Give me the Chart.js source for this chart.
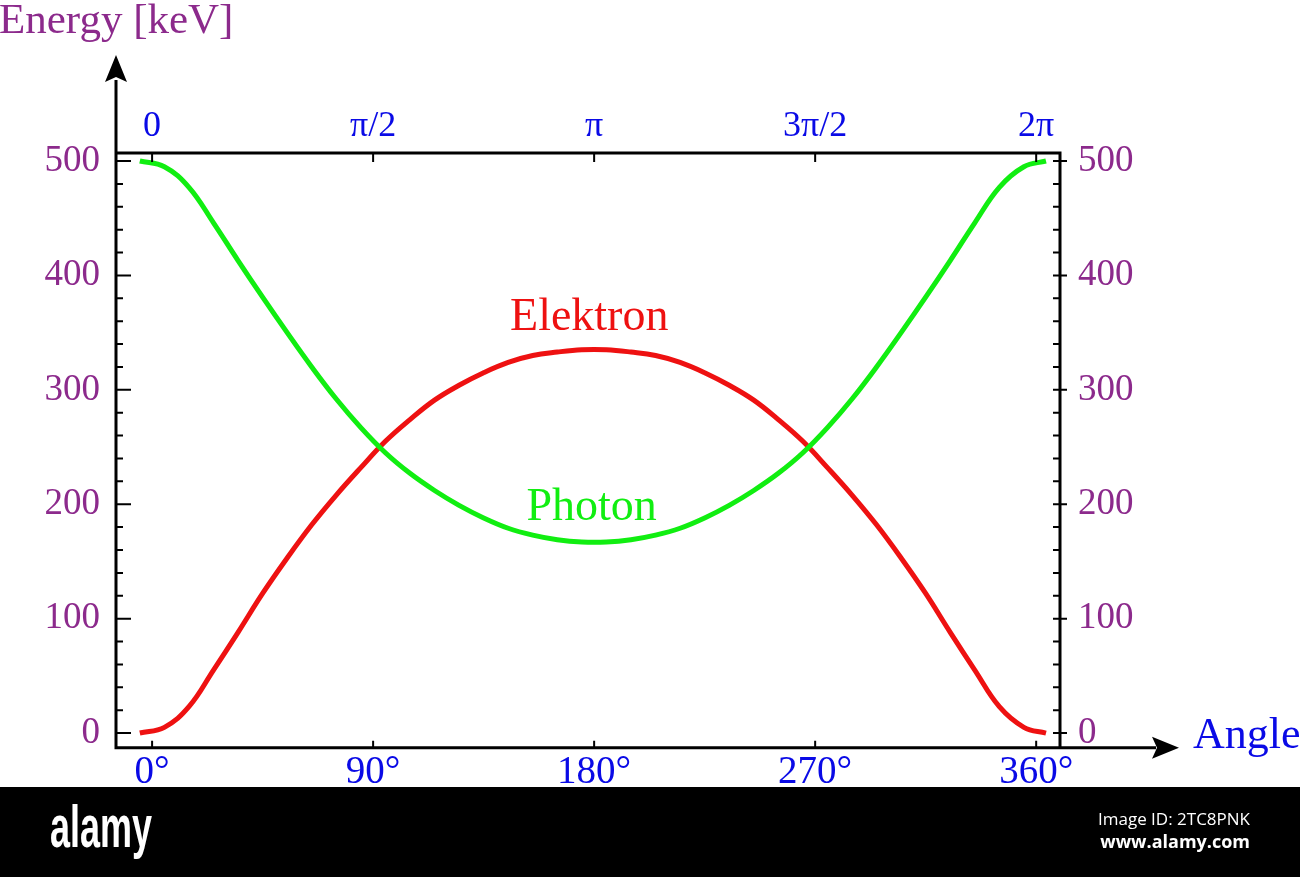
<!DOCTYPE html>
<html>
<head>
<meta charset="utf-8">
<script src="https://cdn.jsdelivr.net/npm/chart.js@4.4.1/dist/chart.umd.min.js"></script>
<style>
  html, body { margin: 0; padding: 0; background: #fff; }
  #wrap { width: 1300px; height: 877px; }
</style>
</head>
<body>
<div id="wrap"><canvas id="compton" width="1300" height="877"></canvas></div>
<script>
// scattering angle in degrees (the curves start a bit left of 0°)
const angles = [-5, 5, 15, 25, 35, 45, 55, 65, 75, 85, 95, 105, 115, 125, 135, 145, 155, 165, 175,
  185, 195, 205, 215, 225, 235, 245, 255, 265, 275, 285, 295, 305, 315, 325, 335, 345, 355, 364];
// energy of the scattered photon [keV]
const photon = [500, 495, 477, 446, 413, 381, 350, 320, 292, 267, 245, 227, 212, 199, 188, 179, 173, 169, 167,
  167, 169, 173, 179, 188, 199, 212, 227, 245, 267, 292, 320, 350, 381, 413, 446, 477, 495, 500];
// energy of the recoil electron [keV]
const electron = [0, 5, 23, 55, 88, 122, 153, 182, 208, 232, 255, 274, 291, 304, 315, 324, 330, 333, 335,
  335, 333, 330, 324, 315, 304, 291, 274, 255, 232, 208, 182, 153, 122, 88, 55, 23, 5, 0];

const xTicks = [0, 90, 180, 270, 360];
const xLabelsDeg = ["0°", "90°", "180°", "270°", "360°"];
const xLabelsRad = ["0", "π/2", "π", "3π/2", "2π"];
const yTicks = [0, 100, 200, 300, 400, 500];
const yMinorStep = 20;

const RED = "#ee1111";
const GREEN = "#11ee11";
const PURPLE = "#8c2a8c";
const BLUE = "#0a0ae6";
const SERIF = "'Liberation Serif', 'Times New Roman', serif";

// where the curve names sit, in data units
const curveNames = [
  { text: "Elektron", x: 178, y: 352, color: RED },
  { text: "Photon", x: 179, y: 186, color: GREEN }
];

function xTickList(scale) {
  scale.ticks = xTicks.map(v => ({ value: v }));
}
function yTickList(scale) {
  let list = [];
  for (let v = yTicks[0]; v <= yTicks[yTicks.length - 1]; v += yMinorStep) {
    list.push({ value: v });
  }
  scale.ticks = list;
}
function yLabel(value) {
  return yTicks.includes(value) ? String(value) : "";
}

// Frame, arrows, inward ticks, curve names and the stock-photo band
const framePlugin = {
  id: "frame",
  afterDatasetsDraw(chart) {
    const ctx = chart.ctx;
    const x = chart.scales.x, y = chart.scales.y;
    ctx.save();
    ctx.textAlign = "center";
    ctx.textBaseline = "alphabetic";
    ctx.font = "46px " + SERIF;
    curveNames.forEach(n => {
      ctx.fillStyle = n.color;
      ctx.fillText(n.text, x.getPixelForValue(n.x), y.getPixelForValue(n.y));
    });
    ctx.restore();
  },
  afterDraw(chart) {
    const ctx = chart.ctx;
    const a = chart.chartArea;
    const x = chart.scales.x, y = chart.scales.y;
    ctx.save();
    ctx.strokeStyle = "#000";
    ctx.fillStyle = "#000";
    ctx.lineWidth = 3;

    ctx.beginPath();
    ctx.moveTo(a.left, 80);
    ctx.lineTo(a.left, a.bottom);
    ctx.lineTo(1156, a.bottom);
    ctx.moveTo(a.left, a.top);
    ctx.lineTo(a.right, a.top);
    ctx.lineTo(a.right, a.bottom);
    ctx.stroke();

    // arrow heads
    ctx.beginPath();
    ctx.moveTo(a.left, 55);
    ctx.lineTo(a.left - 11, 82);
    ctx.lineTo(a.left, 77);
    ctx.lineTo(a.left + 11, 82);
    ctx.closePath();
    ctx.fill();
    ctx.beginPath();
    ctx.moveTo(1179, a.bottom);
    ctx.lineTo(1152, a.bottom - 11);
    ctx.lineTo(1157, a.bottom);
    ctx.lineTo(1152, a.bottom + 11);
    ctx.closePath();
    ctx.fill();

    // y ticks, left inside, right across the line for majors
    ctx.lineWidth = 2;
    ctx.beginPath();
    y.ticks.forEach(t => {
      const py = y.getPixelForValue(t.value);
      const major = yTicks.includes(t.value);
      ctx.moveTo(a.left, py);
      ctx.lineTo(a.left + (major ? 15 : 7), py);
      ctx.moveTo(a.right - 7, py);
      ctx.lineTo(a.right + (major ? 7 : 0), py);
    });
    x.ticks.forEach(t => {
      const px = x.getPixelForValue(t.value);
      ctx.moveTo(px, a.bottom);
      ctx.lineTo(px, a.bottom - 7);
      ctx.moveTo(px, a.top);
      ctx.lineTo(px, a.top + 9);
    });
    ctx.stroke();

    // axis names
    ctx.textBaseline = "alphabetic";
    ctx.textAlign = "left";
    ctx.font = "43px " + SERIF;
    ctx.fillStyle = PURPLE;
    ctx.fillText("Energy [keV]", -1, 33);
    ctx.font = "44px " + SERIF;
    ctx.fillStyle = BLUE;
    ctx.fillText("Angle", 1193, 748);

    // black band at the bottom
    ctx.fillStyle = "#000";
    ctx.fillRect(0, 787, 1300, 90);
    ctx.fillStyle = "#fff";
    ctx.font = "bold 60px 'Liberation Sans Narrow', 'Liberation Sans', sans-serif";
    const w = ctx.measureText("alamy").width;
    ctx.save();
    ctx.translate(50, 847);
    ctx.scale(102 / w, 1);
    ctx.fillText("alamy", 0, 0);
    ctx.restore();
    ctx.textAlign = "right";
    ctx.font = "17px 'Open Sans', sans-serif";
    ctx.fillText("Image ID: 2TC8PNK", 1250, 825);
    ctx.font = "bold 18px 'Open Sans', sans-serif";
    ctx.fillText("www.alamy.com", 1250, 848);
    ctx.restore();
  }
};

const ctx = document.getElementById("compton").getContext("2d");

const chart = new Chart(ctx, {
  type: "line",
  data: {
    datasets: [
      {
        label: "Photon",
        data: angles.map((a, i) => ({ x: a, y: photon[i] })),
        borderColor: GREEN,
        borderWidth: 5,
        pointRadius: 0,
        tension: 0.4,
        xAxisID: "x",
        yAxisID: "y"
      },
      {
        label: "Elektron",
        data: angles.map((a, i) => ({ x: a, y: electron[i] })),
        borderColor: RED,
        borderWidth: 5,
        pointRadius: 0,
        tension: 0.4,
        xAxisID: "x",
        yAxisID: "y"
      }
    ]
  },
  options: {
    responsive: false,
    animation: false,
    events: [],
    layout: { padding: 0 },
    plugins: { legend: { display: false }, tooltip: { enabled: false } },
    scales: {
      x: {
        type: "linear",
        position: "bottom",
        min: -14.7,
        max: 369.7,
        afterBuildTicks: xTickList,
        afterFit: s => { s.height = 129.3; },
        grid: { display: false, drawTicks: false },
        border: { display: false },
        ticks: {
          autoSkip: false,
          maxRotation: 0,
          padding: 2,
          color: BLUE,
          font: { family: SERIF, size: 39 },
          callback: (v, i) => xLabelsDeg[i]
        }
      },
      x2: {
        type: "linear",
        position: "top",
        min: -14.7,
        max: 369.7,
        afterBuildTicks: xTickList,
        afterFit: s => { s.height = 153; },
        grid: { display: false, drawTicks: false },
        border: { display: false },
        ticks: {
          autoSkip: false,
          maxRotation: 0,
          padding: 5,
          color: BLUE,
          font: { family: SERIF, size: 36 },
          callback: (v, i) => xLabelsRad[i]
        }
      },
      y: {
        type: "linear",
        position: "left",
        min: -12.8,
        max: 507,
        afterBuildTicks: yTickList,
        afterFit: s => { s.width = 116; },
        grid: { display: false, drawTicks: false },
        border: { display: false },
        ticks: {
          autoSkip: false,
          padding: 16,
          color: PURPLE,
          font: { family: SERIF, size: 37 },
          callback: yLabel
        }
      },
      y2: {
        type: "linear",
        position: "right",
        min: -12.8,
        max: 507,
        afterBuildTicks: yTickList,
        afterFit: s => { s.width = 240; },
        grid: { display: false, drawTicks: false },
        border: { display: false },
        ticks: {
          autoSkip: false,
          padding: 18,
          color: PURPLE,
          font: { family: SERIF, size: 37 },
          callback: yLabel
        }
      }
    }
  },
  plugins: [framePlugin]
});
</script>
</body>
</html>
